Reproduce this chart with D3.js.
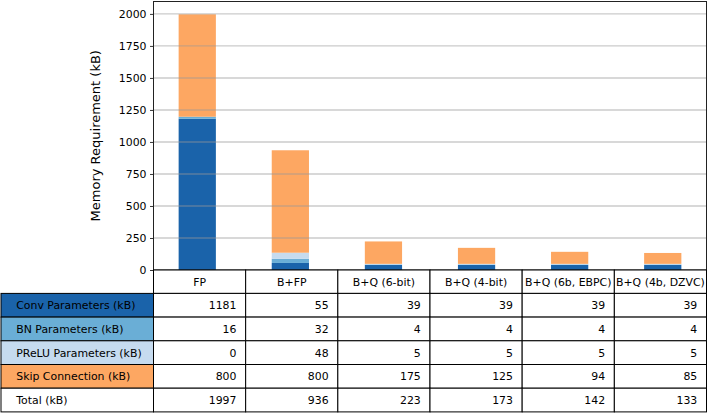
<!DOCTYPE html>
<html>
<head>
<meta charset="utf-8">
<script src="https://cdn.jsdelivr.net/npm/d3@7"></script>
<style>
  body { margin: 0; background: #fff; }
  svg { display: block; font-family: "DejaVu Sans", sans-serif; }
</style>
</head>
<body>
<svg id="chart" width="708" height="414"></svg>
<script>
// chart values
var categories = ["FP", "B+FP", "B+Q (6-bit)", "B+Q (4-bit)", "B+Q (6b, EBPC)", "B+Q (4b, DZVC)"];
var convParams = [1181, 55, 39, 39, 39, 39];
var bnParams = [16, 32, 4, 4, 4, 4];
var preluParams = [0, 48, 5, 5, 5, 5];
var skipConn = [800, 800, 175, 125, 94, 85];
var totals = [1997, 936, 223, 173, 142, 133];
var rowLabels = ["Conv Parameters (kB)", "BN Parameters (kB)", "PReLU Parameters (kB)", "Skip Connection (kB)", "Total (kB)"];
var rowColors = ["#1a63aa", "#6aaed6", "#c6dbef", "#fda762", "#ffffff"];
var yTicks = [0, 250, 500, 750, 1000, 1250, 1500, 1750, 2000];

var svg = d3.select("#chart");

// axes box ("top" is taken by window, so ax* names)
var axLeft = 153.5, axRight = 706.5, axTop = 1.5, axBottom = 270;
var rowH = 23.7, headH = 23.4;
var labelLeft = 1;
var fs = 10.9;

var series = [convParams, bnParams, preluParams, skipConn];

// matplotlib style autoscale: 5% margins around the bar extents
var barW = 0.4;
var xMin = -barW / 2, xMax = categories.length - 1 + barW / 2;
var xPad = (xMax - xMin) * 0.05;
var x = d3.scaleLinear().domain([xMin - xPad, xMax + xPad]).range([axLeft, axRight]);
var yMax = d3.max(totals) * 1.05;
var y = d3.scaleLinear().domain([0, yMax]).range([axBottom, axTop]);

// table columns share the axes width
var col = d3.scaleBand().domain(categories).range([axLeft, axRight]).padding(0);

/* stacked bars, bottom to top */
var stacked = categories.map(function (c, i) {
    var base = 0;
    return series.map(function (s, k) {
        var seg = {cat: i, y0: base, y1: base + s[i], color: rowColors[k]};
        base += s[i];
        return seg;
    });
});

var bars = svg.append("g");
stacked.forEach(function (segs) {
    bars.selectAll(null)
        .data(segs.filter(function (d) { return d.y1 > d.y0; }))
        .enter().append("rect")
        .attr("x", function (d) { return x(d.cat - barW / 2); })
        .attr("width", function (d) { return x(d.cat + barW / 2) - x(d.cat - barW / 2); })
        .attr("y", function (d) { return y(d.y1); })
        .attr("height", function (d) { return y(d.y0) - y(d.y1); })
        .attr("fill", function (d) { return d.color; });
});

// grid lines sit above the bars, semi-transparent
svg.append("g").selectAll("line")
    .data(yTicks.slice(1))
    .enter().append("line")
    .attr("x1", axLeft).attr("x2", axRight)
    .attr("y1", function (d) { return y(d); })
    .attr("y2", function (d) { return y(d); })
    .attr("stroke", "#9a9a9a")
    .attr("stroke-opacity", 0.5)
    .attr("stroke-width", 1.4);

// y axis
var yAxis = d3.axisLeft(y).tickValues(yTicks).tickFormat(d3.format("d")).tickSize(3.5).tickPadding(3.5);
var ya = svg.append("g").attr("transform", "translate(" + axLeft + ",0)").call(yAxis);
ya.select(".domain").remove();
ya.selectAll("text").attr("font-size", fs).attr("fill", "#000").attr("font-family", "DejaVu Sans");
ya.selectAll("line").attr("stroke", "#000").attr("stroke-width", 0.8);

svg.append("text")
    .attr("transform", "translate(99.5," + ((axTop + axBottom) / 2) + ") rotate(-90)")
    .attr("text-anchor", "middle")
    .attr("font-size", 13)
    .text("Memory Requirement (kB)");

// axes frame
svg.append("rect")
    .attr("x", axLeft).attr("y", axTop)
    .attr("width", axRight - axLeft).attr("height", axBottom - axTop)
    .attr("fill", "none").attr("stroke", "#222").attr("stroke-width", 1);

/* table below the axes */
var table = svg.append("g");
var rowValues = [convParams, bnParams, preluParams, skipConn, totals];

// header row
categories.forEach(function (c) {
    table.append("rect")
        .attr("x", col(c)).attr("y", axBottom)
        .attr("width", col.bandwidth()).attr("height", headH)
        .attr("fill", "#fff").attr("stroke", "#000").attr("stroke-width", 1);
    table.append("text")
        .attr("x", col(c) + col.bandwidth() / 2)
        .attr("y", axBottom + headH / 2)
        .attr("dy", "0.36em")
        .attr("text-anchor", "middle")
        .attr("font-size", fs)
        .text(c);
});

rowLabels.forEach(function (lab, r) {
    var ry = axBottom + headH + r * rowH;
    table.append("rect")
        .attr("x", labelLeft).attr("y", ry)
        .attr("width", axLeft - labelLeft).attr("height", rowH)
        .attr("fill", rowColors[r]).attr("stroke", "#000").attr("stroke-width", 1);
    table.append("text")
        .attr("x", labelLeft + (axLeft - labelLeft) * 0.1)
        .attr("y", ry + rowH / 2)
        .attr("dy", "0.36em")
        .attr("font-size", fs)
        .text(lab);

    categories.forEach(function (c, i) {
        table.append("rect")
            .attr("x", col(c)).attr("y", ry)
            .attr("width", col.bandwidth()).attr("height", rowH)
            .attr("fill", "#fff").attr("stroke", "#000").attr("stroke-width", 1);
        table.append("text")
            .attr("x", col(c) + col.bandwidth() * 0.9)
            .attr("y", ry + rowH / 2)
            .attr("dy", "0.36em")
            .attr("text-anchor", "end")
            .attr("font-size", fs)
            .text(rowValues[r][i]);
    });
});
</script>
</body>
</html>
